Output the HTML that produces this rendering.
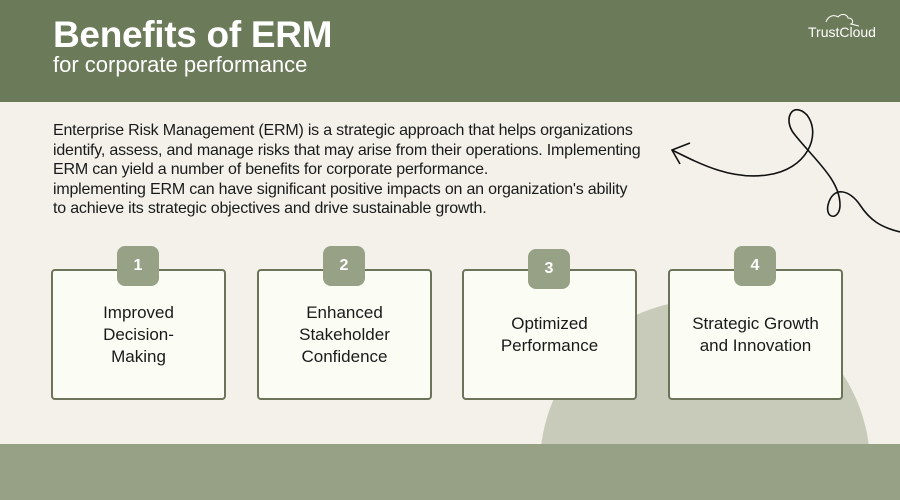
<!DOCTYPE html>
<html><head><meta charset="utf-8"><style>
*{margin:0;padding:0;box-sizing:border-box}
html,body{width:900px;height:500px;overflow:hidden}
body{background:#f3f1ea;font-family:"Liberation Sans",sans-serif;position:relative}
.hdr{position:absolute;left:0;top:0;width:900px;height:102px;background:#6b7a58}
.t1{position:absolute;left:53px;top:14px;font-size:37px;font-weight:bold;color:#fff;letter-spacing:-0.3px}
.t2{position:absolute;left:53px;top:52px;font-size:22px;color:#fff}
.logo{position:absolute;left:808px;top:24px;font-size:14px;color:#fff}
.clip{position:absolute;left:0;top:0;width:900px;height:500px;overflow:hidden}
.blob{position:absolute;left:540px;top:300px;width:330px;height:330px;border-radius:50%;background:#c9cbba}
.foot{position:absolute;left:0;top:444px;width:900px;height:56px;background:#96a186}
.txt{position:absolute;left:53px;top:121px;font-size:16px;line-height:19.5px;color:#1a1a1a;white-space:nowrap;letter-spacing:-0.2px}
.card{position:absolute;top:269px;width:175px;height:131px;background:#fbfcf3;border:2px solid #6b7458;border-radius:4px;display:flex;align-items:center;justify-content:center;text-align:center;font-size:17px;line-height:22px;color:#1a1a1a;padding:0 10px}
.badge{position:absolute;top:246px;width:42px;height:40px;background:#96a186;border-radius:8px;color:#fff;font-weight:bold;font-size:16px;display:flex;align-items:center;justify-content:center}
</style></head><body>
<div class="clip"><div class="blob"></div><div class="foot"></div>
<svg style="position:absolute;left:0;top:0" width="900" height="500"><path d="M826 22c2-6 8-8 12-5 3-4 9-3 10 1 5 0 6 5 3 6l8 2" fill="none" stroke="#fff" stroke-width="1"/>
<path d="M672 150c30 15 60 30 95 25c40-5 55-40 40-60c-15-15-25 5-12 20c20 25 45 45 45 70c0 15-15 15-12 0c5-20 22-15 32 0c10 15 20 22 40 27" fill="none" stroke="#111" stroke-width="1.6"/>
<path d="M690 143l-18 7l8 14" fill="none" stroke="#111" stroke-width="1.6"/></svg></div>
<div class="hdr"></div>
<div class="t1">Benefits of ERM</div>
<div class="t2">for corporate performance</div>
<div class="logo">TrustCloud</div>
<svg style="position:absolute;left:0;top:0" width="900" height="102"><path d="M826 22c2-6 8-8 12-5 3-4 9-3 10 1 5 0 6 5 3 6l8 2" fill="none" stroke="#fff" stroke-width="1"/></svg>
<div class="txt">Enterprise Risk Management (ERM) is a strategic approach that helps organizations<br>identify, assess, and manage risks that may arise from their operations. Implementing<br>ERM can yield a number of benefits for corporate performance.<br>implementing ERM can have significant positive impacts on an organization's ability<br>to achieve its strategic objectives and drive sustainable growth.</div>
<div class="card" style="left:51px">Improved<br>Decision-<br>Making</div>
<div class="card" style="left:257px">Enhanced<br>Stakeholder<br>Confidence</div>
<div class="card" style="left:462px">Optimized<br>Performance</div>
<div class="card" style="left:668px">Strategic Growth and Innovation</div>
<div class="badge" style="left:117px">1</div>
<div class="badge" style="left:323px">2</div>
<div class="badge" style="left:528px;top:249px">3</div>
<div class="badge" style="left:734px">4</div>
</body></html>
